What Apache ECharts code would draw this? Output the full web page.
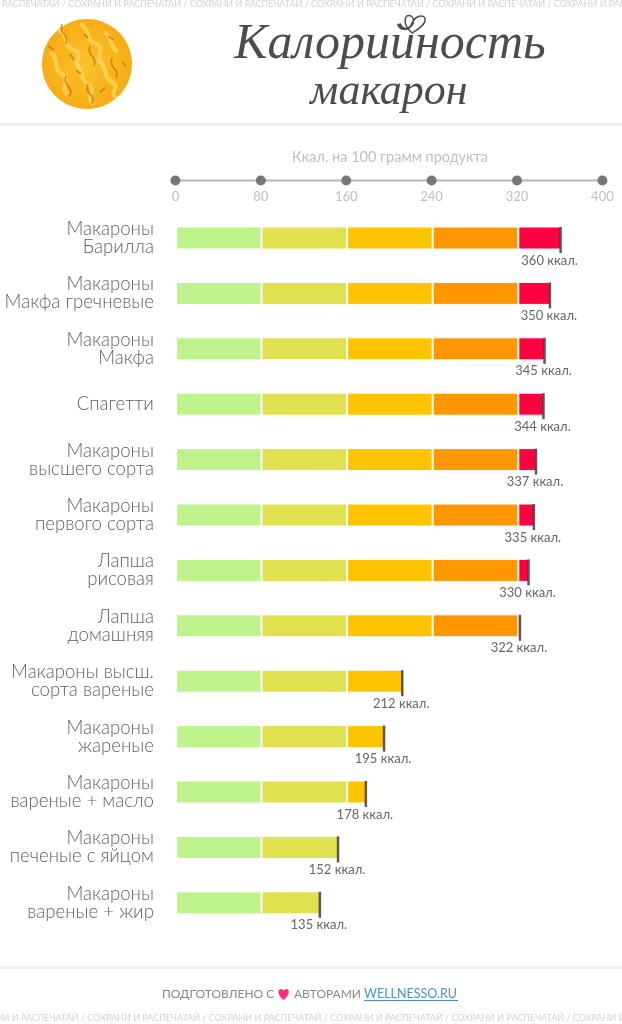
<!DOCTYPE html>
<html><head><meta charset="utf-8">
<style>html,body{margin:0;padding:0;background:#fff}#c{width:622px;height:1024px}</style>
<script src="https://cdn.jsdelivr.net/npm/echarts@6/dist/echarts.min.js"></script>
</head><body><div id="c"></div>
<script>
const categories = ['Макароны\nБарилла','Макароны\nМакфа гречневые','Макароны\nМакфа','Спагетти','Макароны\nвысшего сорта','Макароны\nпервого сорта','Лапша\nрисовая','Лапша\nдомашняя','Макароны высш.\nсорта вареные','Макароны\nжареные','Макароны\nвареные + масло','Макароны\nпеченые с яйцом','Макароны\nвареные + жир'];
const totals = [360,350,345,344,337,335,330,322,212,195,178,152,135];
const band0to80    = [80,80,80,80,80,80,80,80,80,80,80,80,80];
const band80to160  = [80,80,80,80,80,80,80,80,80,80,80,72,55];
const band160to240 = [80,80,80,80,80,80,80,80,52,35,18,null,null];
const band240to320 = [80,80,80,80,80,80,80,80,null,null,null,null,null];
const band320up    = [40,30,25,24,17,15,10,2,null,null,null,null,null];
const axisTicks = [0,80,160,240,320,400];
const bandColors = ['#bdf38a','#e1e04e','#ffc400','#ff9800','#ff0040'];
const bands = [band0to80,band80to160,band160to240,band240to320,band320up];

const FONT = 'Lato';
const strip = 'СОХРАНИ И РАСПЕЧАТАЙ / '.repeat(7);
const pastaLight = [
 'M58 30C70 36 62 46 74 50S70 66 82 70','M80 24C92 30 84 40 96 44S92 60 104 64','M104 32C114 38 108 46 118 52',
 'M50 52C60 58 52 68 62 74S58 88 68 94','M74 62C84 68 78 78 88 84S84 98 94 104','M98 60C108 66 102 76 112 82S108 92 116 98'];
const pastaDark = [
 'M62 24C58 34 70 34 66 44','M90 46C86 56 98 56 94 66','M112 58C108 68 120 68 116 78','M66 76C62 86 74 86 70 96','M88 84C84 94 96 94 92 104',
 'M108 36L114 40','M48 46L54 50','M76 70L81 74','M100 92L105 88','M70 54L74 60','M84 34L88 38','M122 62L126 66'];
function pathEl(name,d,style){
  echarts.graphic.registerShape(name,echarts.graphic.extendPath(d,{}));
  return {type:name,shape:{},style};
}
const option = {
  animation:false, backgroundColor:'#fff',
  grid:[
    {left:175.9,width:428,top:210.3,height:720.2},
    {left:175.4,width:427,top:180,height:1}
  ],
  xAxis:[
    {type:'value',gridIndex:0,min:0,max:400,show:false},
    {type:'value',gridIndex:1,min:0,max:400,interval:80,position:'bottom',
     axisLine:{show:false},axisTick:{show:false},splitLine:{show:false},
     axisLabel:{color:'#c0c0c0',fontFamily:FONT,fontSize:13,margin:9,
       formatter:v=>axisTicks.includes(v)?String(v):''}}
  ],
  yAxis:[
    {type:'category',gridIndex:0,inverse:true,data:categories,
     axisLine:{show:false},axisTick:{show:false},
     axisLabel:{color:'#5f5f5f',fontFamily:FONT,fontWeight:300,fontSize:18.6,lineHeight:18,margin:22,align:'right',padding:[2,0,0,0]}},
    {type:'value',gridIndex:1,min:0,max:1,show:false}
  ],
  series:[
    ...bands.map((d,i)=>({type:'bar',stack:'kcal',xAxisIndex:0,yAxisIndex:0,barWidth:23,data:d,silent:true,
      itemStyle:{color:bandColors[i],borderColor:'#fff',borderWidth:1}})),
    {type:'scatter',xAxisIndex:0,yAxisIndex:0,symbol:'rect',symbolSize:[2.5,26],symbolOffset:[-0.5,2],z:5,silent:true,
     itemStyle:{color:'rgba(70,55,60,0.85)',opacity:1},
     data:totals.map((v,i)=>({value:[v,categories[i]],
        label:{offset:[i===0?-11:-1,0]}})),
     label:{show:true,position:'bottom',distance:1,color:'#666',fontFamily:FONT,fontSize:13,
       formatter:p=>p.value[0]+' ккал.'}},
    {type:'line',xAxisIndex:1,yAxisIndex:1,symbol:'circle',symbolSize:10,showSymbol:true,silent:true,
     lineStyle:{color:'#b5b5b5',width:2},itemStyle:{color:'#777',opacity:1},
     data:axisTicks.map(t=>[t,0.5])}
  ],
  graphic:[
    {type:'text',x:-53,y:4,style:{text:strip,fill:'#d2d2d2',font:'9px '+FONT,verticalAlign:'middle'}},
    {type:'text',x:-34,y:1018,style:{text:strip,fill:'#d2d2d2',font:'9px '+FONT,verticalAlign:'middle'}},
    {type:'rect',shape:{x:0,y:123,width:622,height:3},style:{fill:'#f8eee7'}},
    {type:'rect',shape:{x:0,y:966,width:622,height:3},style:{fill:'#f8eee7'}},
    {type:'circle',shape:{cx:87,cy:64,r:45},style:{fill:{type:'radial',x:.5,y:.5,r:.6,colorStops:[{offset:0,color:'#fdc12a'},{offset:1,color:'#f4a812'}]}}},
    ...pastaLight.map((p,i)=>pathEl('pastaL'+i,p,{fill:'none',stroke:'#ffd657',lineWidth:4,opacity:.8})),
    ...pastaDark.map((p,i)=>pathEl('pastaD'+i,p,{fill:'none',stroke:'#c9740f',lineWidth:1.8,opacity:.75})),
    {type:'text',x:390,y:45,style:{text:'Калорийность',fill:'#4c4c4c',font:'italic 50px "Liberation Serif"',align:'center',verticalAlign:'middle'}},
    {type:'text',x:389,y:92,style:{text:'макарон',fill:'#4c4c4c',font:'italic 44px "Liberation Serif"',align:'center',verticalAlign:'middle'}},
    pathEl('titleHeart','M412 33C401 23 405 13 411 16C414 18 414 21 412 23C417 13 427 15 425 21C424 26 417 30 412 33Z',{fill:'none',stroke:'#4c4c4c',lineWidth:1.5}),
    {type:'text',x:390,y:157,style:{text:'Ккал. на 100 грамм продукта',fill:'#c0c0c0',font:'14.5px '+FONT,align:'center',verticalAlign:'middle'}},
    {type:'text',x:162,y:994,style:{text:'ПОДГОТОВЛЕНО С',fill:'#888',font:'12px '+FONT,verticalAlign:'middle'}},
    pathEl('footHeart','M283.5 1000C277 995 277.5 989 281 989C282.5 989 283.5 990 283.5 991C284 990 285 989 286.5 989C290 989 290 995 283.5 1000Z',{fill:'#ff2d7a'}),
    {type:'text',x:294,y:994,style:{text:'АВТОРАМИ',fill:'#888',font:'12px '+FONT,verticalAlign:'middle'}},
    {type:'text',x:364,y:994,style:{text:'WELLNESSO.RU',fill:'#4a90c8',font:'12.5px '+FONT,verticalAlign:'middle'}},
    {type:'rect',shape:{x:364,y:1000,width:94,height:1},style:{fill:'#4a90c8'}}
  ]
};
echarts.init(document.getElementById('c'),null,{renderer:'canvas'}).setOption(option);
</script></body></html>
